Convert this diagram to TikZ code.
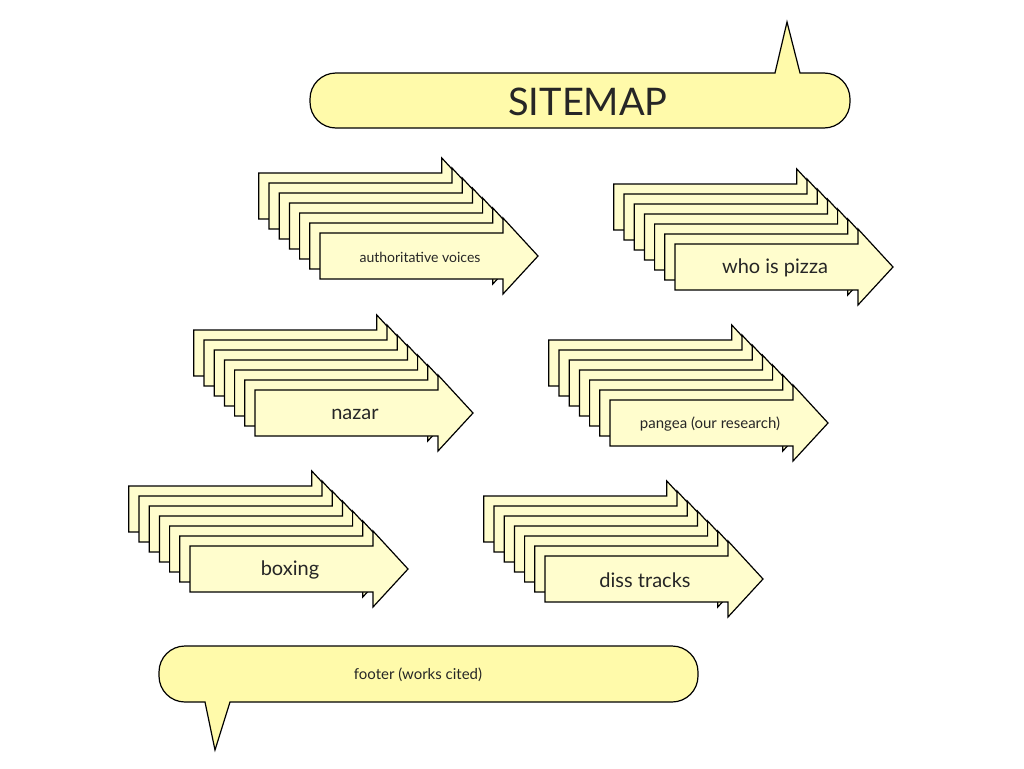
\documentclass[tikz,border=0pt]{standalone}
\usepackage{fontspec}
\setmainfont{Lato}
\definecolor{arrfill}{RGB}{255,253,205}
\definecolor{callfill}{RGB}{255,250,170}
\tikzset{arr/.style={draw=black,line width=1.2pt,fill=arrfill,line join=miter},
call/.style={draw=black,line width=1.2pt,fill=callfill},
lbl/.style={inner sep=0pt,text=black!85}}
\newcommand\stk[5]{%
 \foreach \i in {6,...,0}{
  \path[arr] ({#1-10.2*\i},{#2-10*\i}) -- ++(183,0) -- ++(0,-15) -- ++(35,38) -- ++(-35,38) -- ++(0,-15) -- ++(-183,0) -- cycle;
 }
 \node[lbl,font=\fontsize{#4}{#4}\selectfont] (#5) at ({#1+100},{#2+24}) {#3};
}
\begin{document}
\begin{tikzpicture}[x=1pt,y=-1pt]
\useasboundingbox (0,0) rectangle (1024,768);
% sitemap callout
\path[call] (336,73) -- (775,73) -- (787,22) -- (800,73) -- (824,73) arc[start angle=-90,end angle=0,radius=26] -- (850,102) arc[start angle=0,end angle=90,radius=26] -- (336,128) arc[start angle=90,end angle=180,radius=26] -- (310,99) arc[start angle=180,end angle=270,radius=26] -- cycle;
\node[lbl,font=\fontsize{38}{38}\selectfont] (title) at (588,102) {SITEMAP};
% footer callout
\path[call] (185,646) -- (672,646) arc[start angle=-90,end angle=0,radius=26] -- (698,676) arc[start angle=0,end angle=90,radius=26] -- (230,702) -- (215,750) -- (205,702) -- (185,702) arc[start angle=90,end angle=180,radius=26] -- (159,672) arc[start angle=180,end angle=270,radius=26] -- cycle;
\node[lbl,font=\fontsize{15}{15}\selectfont] (footer) at (418,675) {footer (works cited)};
\stk{320}{233}{authoritative voices}{14}{a}
\stk{675}{244}{who is pizza}{20}{b}
\stk{255}{390}{nazar}{20}{c}
\stk{610}{400}{pangea (our research)}{15}{d}
\stk{190}{546}{boxing}{20}{e}
\stk{545}{556}{diss tracks}{20}{f}
\end{tikzpicture}
\end{document}
